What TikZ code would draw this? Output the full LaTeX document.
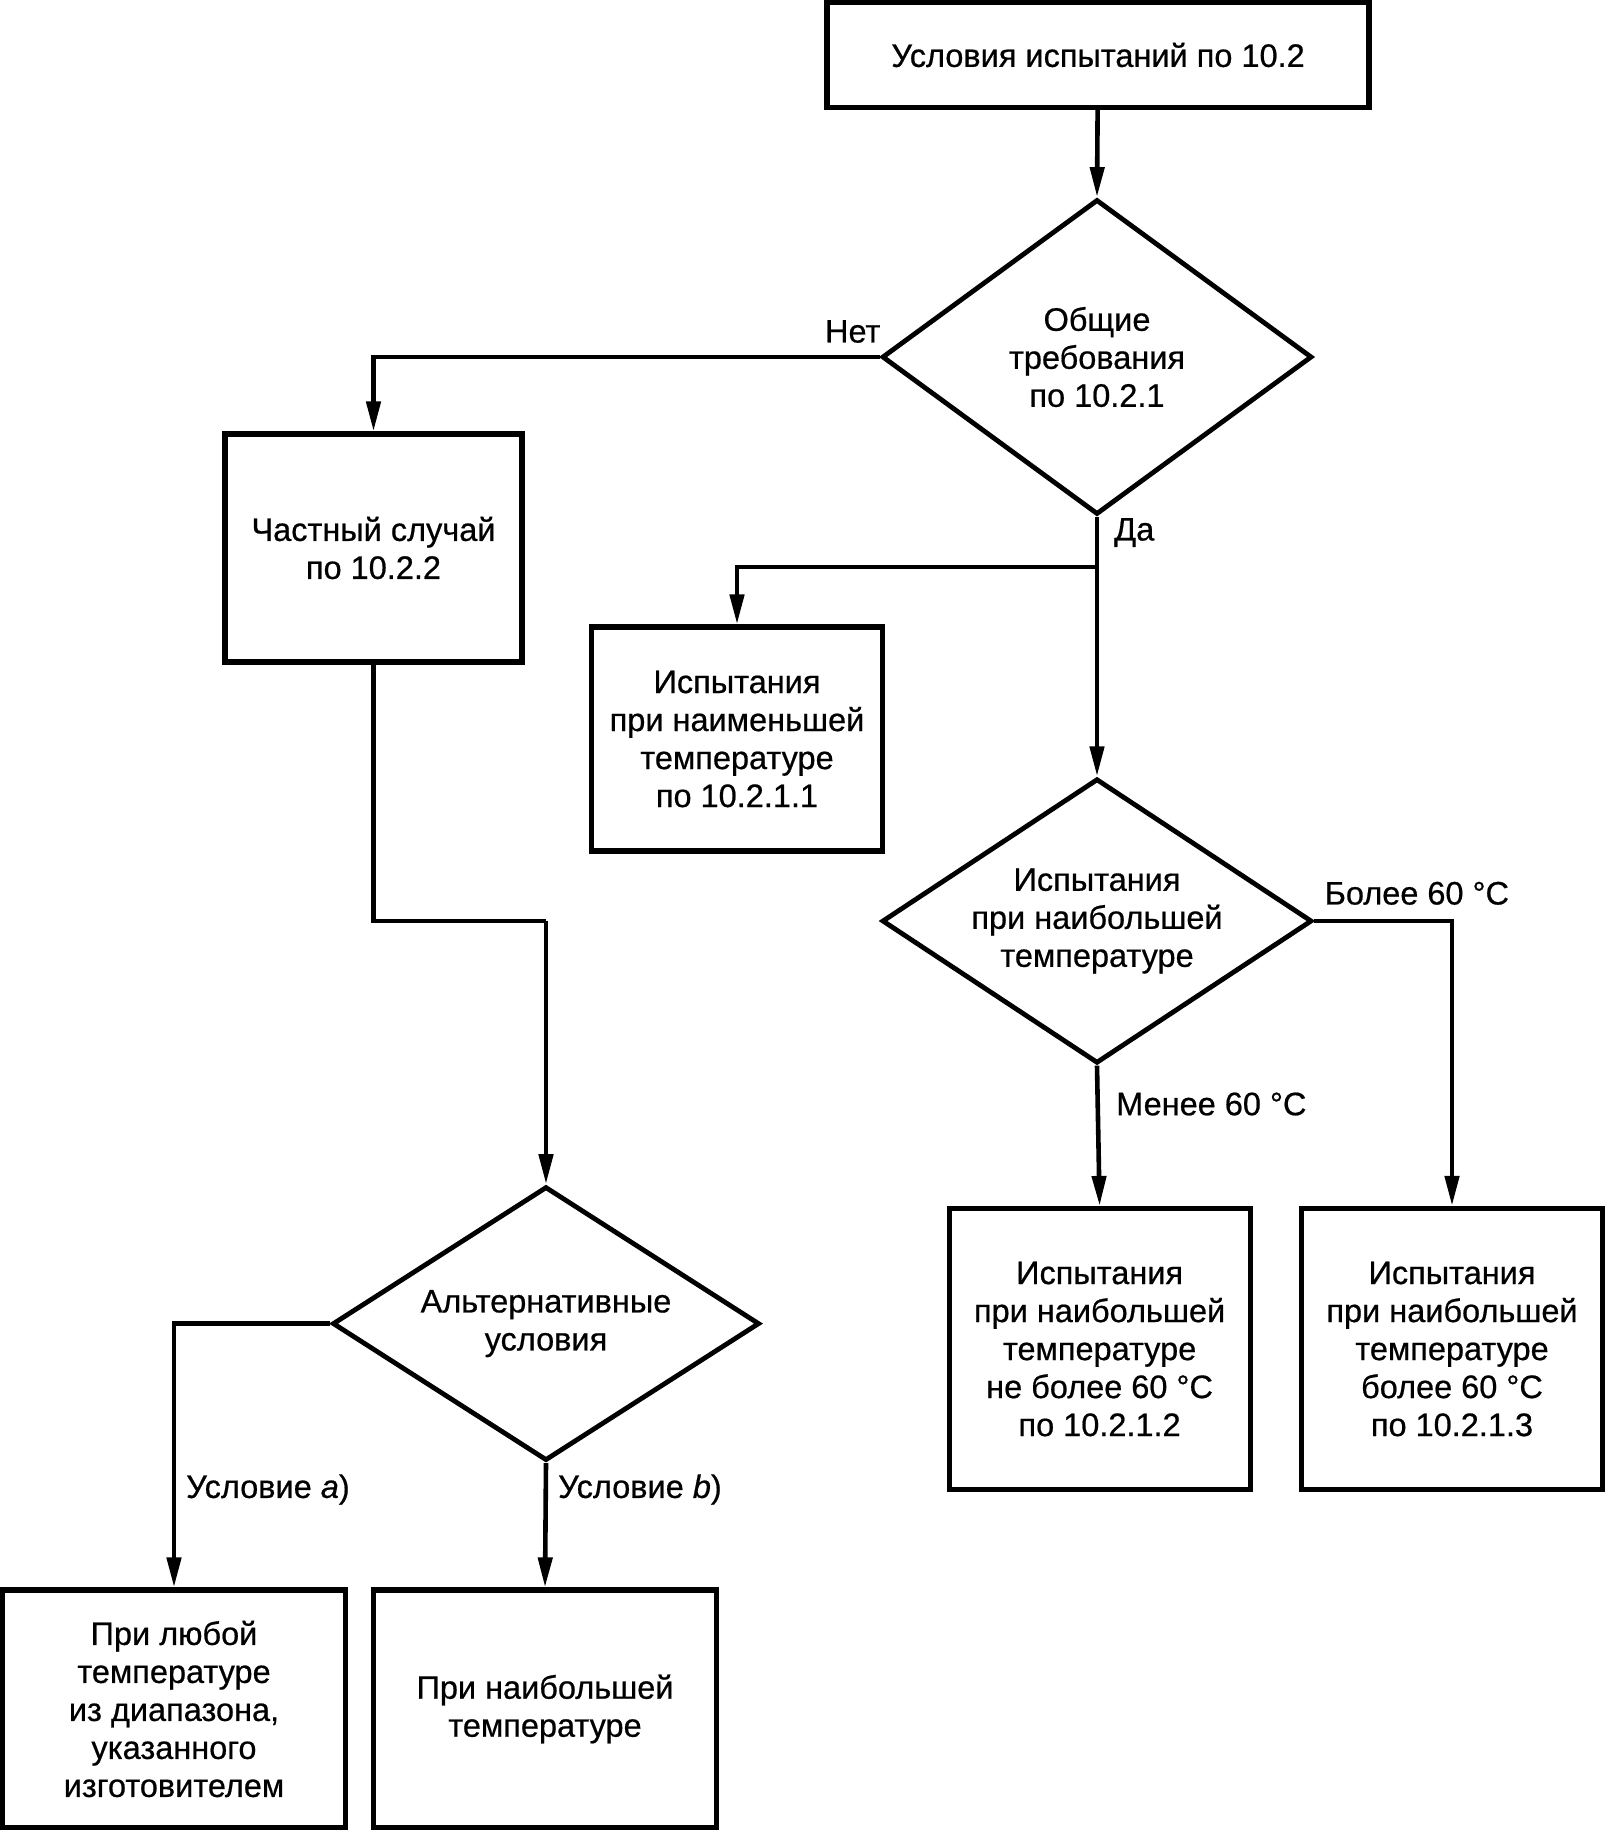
\documentclass[tikz,border=0pt]{standalone}
\usepackage{fontspec}
\setmainfont{Liberation Sans}[UprightFeatures={FakeBold=0.6},ItalicFeatures={FakeBold=0.6}]
\usetikzlibrary{shapes.geometric,arrows.meta}
\begin{document}
\begin{tikzpicture}[x=1pt,y=-1pt,
  font=\fontsize{32.5}{38}\selectfont,
  box/.style={draw,line width=5.2pt,align=center,inner sep=0pt},
  dia/.style={draw,diamond,line width=4.8pt,align=center,inner sep=0pt,aspect=1.4},
  conn/.style={line width=4.6pt,-{Triangle[length=30pt,width=14pt]}},
  plain/.style={line width=4.6pt},
  lbl/.style={inner sep=0pt}]
\useasboundingbox (0,0) rectangle (1605,1830);
% nodes
\node[box,minimum width=542pt,minimum height=105pt] (top) at (1098,55) {Условия испытаний по 10.2};
\node[dia,minimum width=430pt,minimum height=315pt] (d1) at (1097,357) {Общие\\требования\\по 10.2.1};
\node[box,minimum width=297pt,minimum height=228pt] (b2) at (373.5,548) {Частный случай\\по 10.2.2};
\node[box,minimum width=291pt,minimum height=224pt] (b3) at (737,739) {Испытания\\при наименьшей\\температуре\\по 10.2.1.1};
\node[dia,minimum width=430pt,minimum height=272pt] (d2) at (1097,921) {Испытания\\при наибольшей\\температуре};
\node[box,minimum width=301pt,minimum height=281pt] (b4) at (1099.6,1349) {Испытания\\при наибольшей\\температуре\\не более 60~°С\\по 10.2.1.2};
\node[box,minimum width=301pt,minimum height=281pt] (b5) at (1452,1349) {Испытания\\при наибольшей\\температуре\\более 60~°С\\по 10.2.1.3};
\node[dia,minimum width=427pt,minimum height=274pt] (d3) at (546,1323.6) {Альтернативные\\условия};
\node[box,minimum width=343pt,minimum height=238pt] (b6) at (174,1709) {При любой\\температуре\\из диапазона,\\указанного\\изготовителем};
\node[box,minimum width=343pt,minimum height=238pt] (b7) at (545,1709) {При наибольшей\\температуре};
% junctions
\coordinate (j1) at (1097,567);
\coordinate (j2) at (d3.north |- d2.center);
% connectors
\draw[conn] (top) -- (d1.north);
\draw[conn] (d1.west) -| (b2.north);
\draw[plain] (d1.south) -- (j1);
\draw[conn] (j1) -| (b3.north);
\draw[conn] (j1) -- (d2.north);
\draw[conn] (d2.east) -| (b5.north);
\draw[conn] (d2.south) -- (b4.north);
\draw[plain] (b2.south) |- (j2);
\draw[conn] (j2) -- (d3.north);
\draw[conn] (d3.west) -| (b6.north);
\draw[conn] (d3.south) -- (b7.north);
% labels
\node[lbl,anchor=south east] (lnet) at ([xshift=1pt,yshift=14pt]d1.west) {Нет};
\node[lbl,anchor=north west] (lda) at ([xshift=17pt,yshift=-1pt]d1.south) {Да};
\node[lbl,anchor=south west] (lbol) at ([xshift=10pt,yshift=16pt]d2.east) {Более 60~°С};
\node[lbl,anchor=west] (lmen) at (1116,1104) {Менее 60~°С};
\node[lbl,anchor=west] (la) at (186,1489.5) {Условие \textit{a})};
\node[lbl,anchor=west] (lb) at (558,1489.5) {Условие \textit{b})};
\end{tikzpicture}
\end{document}
